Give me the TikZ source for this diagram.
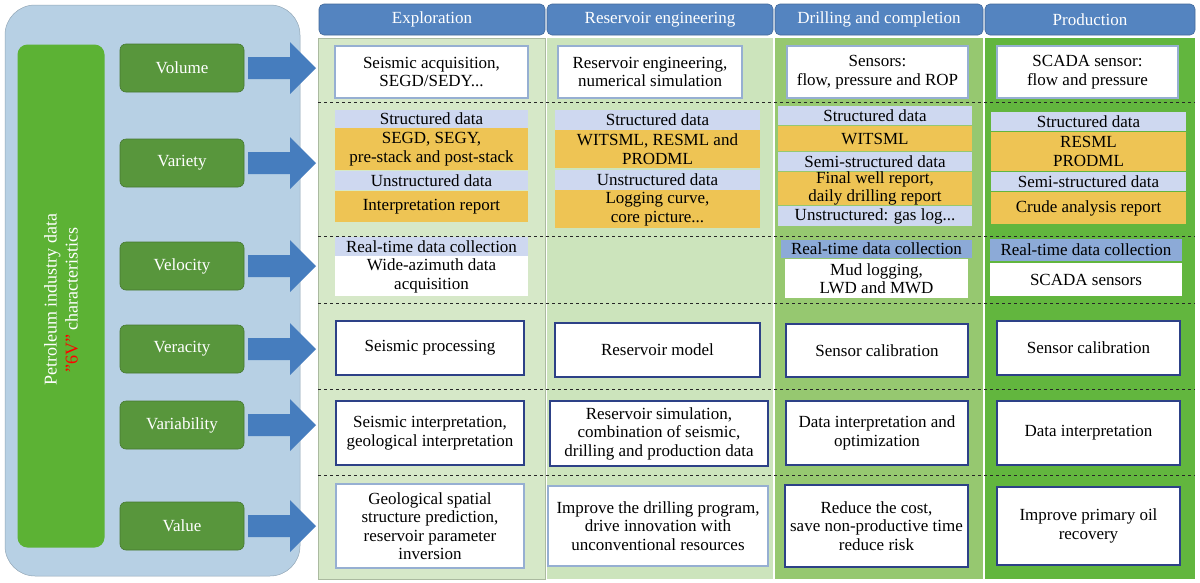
\documentclass[tikz,border=0pt]{standalone}
\usepackage{fontspec}
\setmainfont{Liberation Serif}
\begin{document}
\definecolor{panel}{RGB}{183,208,228}
\definecolor{gbar}{RGB}{92,178,52}
\definecolor{glab}{RGB}{88,150,60}
\definecolor{arr}{RGB}{70,125,190}
\definecolor{hdr}{RGB}{84,132,192}
\definecolor{c1}{RGB}{214,232,200}
\definecolor{c2}{RGB}{204,228,188}
\definecolor{c3}{RGB}{150,200,112}
\definecolor{c4}{RGB}{98,182,62}
\definecolor{lav}{RGB}{206,216,240}
\definecolor{org}{RGB}{238,196,84}
\definecolor{rtb}{RGB}{140,170,215}
\definecolor{dkb}{RGB}{45,65,135}
\definecolor{ltb}{RGB}{150,175,210}
\newcommand\cellbox[7]{\node[#6, minimum width={(#4-#2)*1pt}, minimum height={(#5-#3)*1pt}] (#1) at ({(#2+#4)/2},{(#3+#5)/2}) {#7};}
\begin{tikzpicture}[x=1pt,y=-1pt,
  base/.style={inner sep=0pt, align=center, font=\fontsize{17}{18.5}\selectfont},
  wbox/.style={base, fill=white, draw=ltb, line width=2pt},
  dbox/.style={base, fill=white, draw=dkb, line width=2.5pt},
  lav/.style={base, fill=lav},
  org/.style={base, fill=org},
  rt/.style={base, fill=rtb},
  wt/.style={base, fill=white},
  lab/.style={base, fill=glab, draw=glab!80!black, line width=0.6pt, rounded corners=6pt, text=white, font=\fontsize{17}{19}\selectfont},
  hd/.style={base, fill=hdr, draw=hdr!80!black, line width=0.6pt, rounded corners=5pt, text=white, font=\fontsize{17}{19}\selectfont},
  rowsep/.style={dashed, line width=1pt, black!85}]
\useasboundingbox (0,0) rectangle (1200,582);
\fill[white] (0,0) rectangle (1200,582);
% left panel
\draw[fill=panel, draw=panel!80!black, line width=0.5pt, rounded corners=30pt] (5,5) rectangle (300,576);
\node[base, fill=gbar, rounded corners=10pt, minimum width=87pt, minimum height=503pt, text=white] (bar) at (61,296) {};
\node[base, rotate=90, text=white, font=\fontsize{18}{21}\selectfont] (bartxt) at (61,300) {Petroleum industry data\\\textcolor{red}{"6V"} characteristics};
\foreach \n/\t/\y in {vol/Volume/68, var/Variety/163, vel/Velocity/266, ver/Veracity/349, vab/Variability/425, val/Value/526}{
  \node[lab, minimum width=124pt, minimum height=48pt] (\n) at (182,\y) {\t};
  \fill[arr] (248,\y-11) -- (290,\y-11) -- (290,\y-26) -- (316,\y) -- (290,\y+26) -- (290,\y+11) -- (248,\y+11) -- cycle;
}
% columns
\fill[c1] (318,38) rectangle (545,579);
\fill[c2] (547,38) rectangle (773,579);
\fill[c3] (775,38) rectangle (983,579);
\fill[c4] (985,38) rectangle (1195,579);
\draw[c1!80!black, line width=0.5pt] (318,38) rectangle (545,579);
\cellbox{h1}{319}{4}{545}{35}{hd}{Exploration}
\cellbox{h2}{547}{4}{773}{35}{hd}{Reservoir engineering}
\cellbox{h3}{775}{4}{983}{35}{hd}{Drilling and completion}
\cellbox{h4}{985}{4}{1195}{35}{hd}{Production}
\foreach \y in {102,236,303,389,475}{\draw[rowsep] (318,\y) -- (1195,\y);}
% Volume
\cellbox{a1}{335}{46}{528}{98}{wbox}{Seismic acquisition,\\SEGD/SEDY...}
\cellbox{b1}{558}{46}{742}{98}{wbox}{Reservoir engineering,\\numerical simulation}
\cellbox{c1b}{787}{46}{968}{98}{wbox}{Sensors:\\flow, pressure and ROP}
\cellbox{d1}{997}{46}{1178}{98}{wbox}{SCADA sensor:\\flow and pressure}
% Variety
\cellbox{a2a}{335}{110}{528}{128}{lav}{Structured data}
\cellbox{a2b}{335}{128}{528}{170}{org}{SEGD, SEGY,\\pre-stack and post-stack}
\cellbox{a2c}{335}{171}{528}{190}{lav}{Unstructured data}
\cellbox{a2d}{335}{191}{528}{222}{org}{Interpretation report}
\cellbox{b2a}{555}{110}{760}{130}{lav}{Structured data}
\cellbox{b2b}{555}{130}{760}{168}{org}{WITSML, RESML and\\PRODML}
\cellbox{b2c}{555}{170}{760}{190}{lav}{Unstructured data}
\cellbox{b2d}{555}{190}{760}{228}{org}{Logging curve,\\core picture...}
\cellbox{c2a}{778}{106}{972}{125}{lav}{Structured data}
\cellbox{c2b}{778}{126}{972}{151}{org}{WITSML}
\cellbox{c2c}{778}{152}{972}{171}{lav}{Semi-structured data}
\cellbox{c2d}{778}{172}{972}{205}{org}{Final well report,\\daily drilling report}
\cellbox{c2e}{778}{206}{972}{226}{lav}{Unstructured: gas log...}
\cellbox{d2a}{991}{112}{1186}{131}{lav}{Structured data}
\cellbox{d2b}{991}{132}{1186}{171}{org}{RESML\\PRODML}
\cellbox{d2c}{991}{172}{1186}{191}{lav}{Semi-structured data}
\cellbox{d2d}{991}{192}{1186}{224}{org}{Crude analysis report}
% Velocity
\cellbox{a3a}{335}{237}{528}{256}{lav}{Real-time data collection}
\cellbox{a3b}{335}{256}{528}{296}{wt}{Wide-azimuth data\\acquisition}
\cellbox{c3a}{781}{240}{972}{258}{rt}{Real-time data collection}
\cellbox{c3b}{785}{259}{968}{298}{wt}{Mud logging,\\LWD and MWD}
\cellbox{d3a}{990}{239}{1182}{261}{rt}{Real-time data collection}
\cellbox{d3b}{990}{263}{1182}{296}{wt}{SCADA sensors}
% Veracity
\cellbox{a4}{336}{321}{524}{375}{dbox}{Seismic processing}
\cellbox{b4}{555}{323}{760}{377}{dbox}{Reservoir model}
\cellbox{c4b}{786}{324}{968}{377}{dbox}{Sensor calibration}
\cellbox{d4}{997}{321}{1180}{375}{dbox}{Sensor calibration}
% Variability
\cellbox{a5}{336}{401}{524}{465}{dbox}{Seismic interpretation,\\geological interpretation}
\cellbox{b5}{550}{401}{768}{466}{dbox}{Reservoir simulation,\\combination of seismic,\\drilling and production data}
\cellbox{c5}{786}{401}{968}{465}{dbox}{Data interpretation and\\optimization}
\cellbox{d5}{997}{401}{1180}{465}{dbox}{Data interpretation}
% Value
\cellbox{a6}{336}{484}{524}{568}{wbox}{Geological spatial\\structure prediction,\\reservoir parameter\\inversion}
\cellbox{b6}{548}{486}{768}{566}{wbox}{Improve the drilling program,\\drive innovation with\\unconventional resources}
\cellbox{c6}{785}{485}{968}{567}{dbox}{Reduce the cost,\\save non-productive time\\reduce risk}
\cellbox{d6}{997}{487}{1180}{565}{dbox}{Improve primary oil\\recovery}
\end{tikzpicture}
\end{document}
